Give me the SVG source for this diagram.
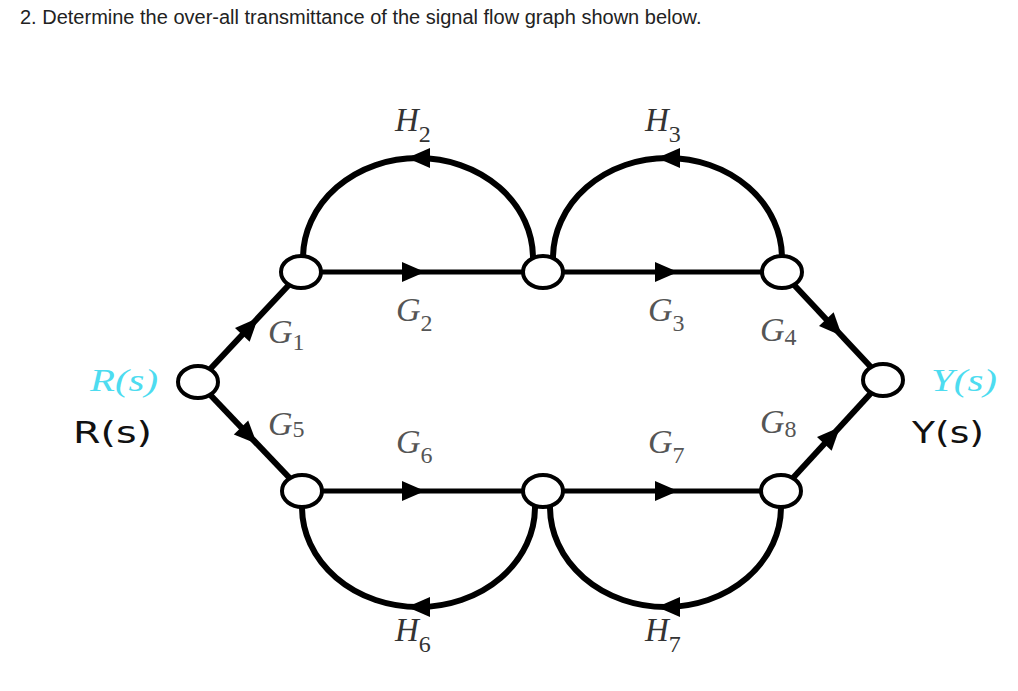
<svg xmlns="http://www.w3.org/2000/svg" width="1018" height="691" viewBox="0 0 1018 691">
<style>
.title{font-family:"Liberation Sans",Arial,sans-serif;font-size:20px;fill:#222}
.edge{fill:none;stroke:#000;stroke-width:5}
.arc{fill:none;stroke:#000;stroke-width:6}
.node{fill:#fff;stroke:#000;stroke-width:4}
.g{font-family:"Liberation Serif","Times New Roman",serif;font-style:italic;font-size:34px;fill:#555}
.h{font-family:"Liberation Serif","Times New Roman",serif;font-style:italic;font-size:33px;fill:#333}
.sub{font-size:24px;font-style:normal}
.cy{font-family:"Liberation Serif","Times New Roman",serif;font-style:italic;font-size:32px;fill:#4ddcf0}
.bk{font-family:"DejaVu Sans","Liberation Sans",sans-serif;font-size:30px;fill:#111}
</style>
<defs>
<path id="ah" d="M0,0 L-23,-10 L-23,10 Z" fill="#000"/>
</defs>
<rect width="1018" height="691" fill="#fff"/>
<text class="title" x="20" y="24">2. Determine the over-all transmittance of the signal flow graph shown below.</text>

<g id="connectors">
<path class="edge" d="M301,272 L543,272 L782,272"/>
<path class="edge" d="M302,491 L543,491 L781,491"/>
<path class="arc" d="M198,382 L301,272"/>
<path class="arc" d="M198,382 L302,491"/>
<path class="arc" d="M782,272 L883,380"/>
<path class="arc" d="M781,491 L883,380"/>
<path class="arc" d="M303,262 L303,258 A115,100 0 0 1 533,258 L533,262"/>
<path class="arc" d="M553,262 L553,258 A114.5,100 0 0 1 782,258 L782,262"/>
<path class="arc" d="M302,502 L302,507 A116.5,100 0 0 0 535,507 L535,502"/>
<path class="arc" d="M550,502 L550,507 A115.5,100 0 0 0 781,507 L781,502"/>
<use href="#ah" transform="translate(425,272)"/>
<use href="#ah" transform="translate(678,272)"/>
<use href="#ah" transform="translate(425,491)"/>
<use href="#ah" transform="translate(678,491)"/>
<use href="#ah" transform="translate(407,158) rotate(180)"/>
<use href="#ah" transform="translate(657,158) rotate(180)"/>
<use href="#ah" transform="translate(407,607) rotate(180)"/>
<use href="#ah" transform="translate(657,607) rotate(180)"/>
<use href="#ah" transform="translate(258,318) rotate(-47)"/>
<use href="#ah" transform="translate(257,444) rotate(46)"/>
<use href="#ah" transform="translate(842,336) rotate(47)"/>
<use href="#ah" transform="translate(840,427) rotate(-47)"/>
</g>

<g id="node-R"><ellipse class="node" cx="198" cy="382" rx="20" ry="16"/></g>
<g id="node-1"><ellipse class="node" cx="301" cy="272" rx="20" ry="16"/></g>
<g id="node-2"><ellipse class="node" cx="543" cy="272" rx="20" ry="16"/></g>
<g id="node-3"><ellipse class="node" cx="782" cy="272" rx="20" ry="16"/></g>
<g id="node-5"><ellipse class="node" cx="302" cy="491" rx="20" ry="16"/></g>
<g id="node-6"><ellipse class="node" cx="543" cy="491" rx="20" ry="16"/></g>
<g id="node-7"><ellipse class="node" cx="781" cy="491" rx="20" ry="16"/></g>
<g id="node-Y"><ellipse class="node" cx="883" cy="380" rx="20" ry="16"/></g>

<g id="labels">
<text class="g" x="268" y="343">G<tspan class="sub" dy="7">1</tspan></text>
<text class="g" x="268" y="435">G<tspan class="sub" dy="2">5</tspan></text>
<text class="g" x="396" y="321">G<tspan class="sub" dy="10">2</tspan></text>
<text class="g" x="648" y="321">G<tspan class="sub" dy="10">3</tspan></text>
<text class="g" x="760" y="341">G<tspan class="sub" dy="4">4</tspan></text>
<text class="g" x="760" y="433">G<tspan class="sub" dy="4">8</tspan></text>
<text class="g" x="396" y="453">G<tspan class="sub" dy="10">6</tspan></text>
<text class="g" x="648" y="453">G<tspan class="sub" dy="10">7</tspan></text>
<text class="h" x="395" y="131">H<tspan class="sub" dy="11">2</tspan></text>
<text class="h" x="645" y="131">H<tspan class="sub" dy="11">3</tspan></text>
<text class="h" x="395" y="641">H<tspan class="sub" dy="11">6</tspan></text>
<text class="h" x="645" y="641">H<tspan class="sub" dy="11">7</tspan></text>
<text class="cy" x="90" y="391" textLength="68" lengthAdjust="spacingAndGlyphs">R(s)</text>
<text class="bk" x="73" y="443" textLength="79" lengthAdjust="spacingAndGlyphs">R(s)</text>
<text class="cy" x="931" y="391" textLength="66" lengthAdjust="spacingAndGlyphs">Y(s)</text>
<text class="bk" x="912" y="443" textLength="72" lengthAdjust="spacingAndGlyphs">Y(s)</text>
</g>
</svg>
